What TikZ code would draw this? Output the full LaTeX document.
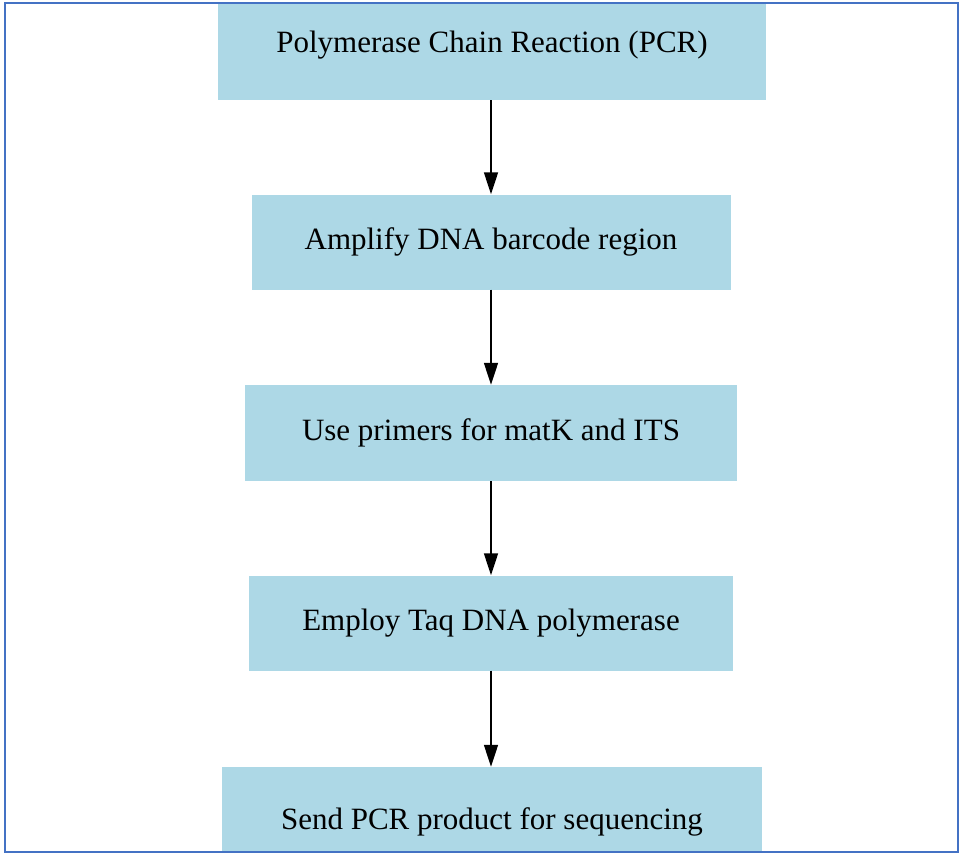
\documentclass[tikz,border=0pt]{standalone}
\usepackage{fontspec}
\setmainfont{Liberation Serif}
\usetikzlibrary{arrows.meta}
\definecolor{boxfill}{HTML}{ADD8E6}
\definecolor{frame}{HTML}{4472C4}
\begin{document}
\begin{tikzpicture}[x=1pt,y=-1pt,
  box/.style={fill=boxfill,draw=none,inner sep=0pt,font=\fontsize{31}{36}\selectfont},
  arr/.style={-{Triangle[length=22pt,width=14pt]},line width=1.5pt}]
\useasboundingbox (0,0) rectangle (964,856);
\fill[white] (0,0) rectangle (964,856);
\begin{scope}
\clip (5,3) rectangle (958,852);
\node[box,minimum width=548pt,minimum height=110pt] (n1) at (492,45) {Polymerase Chain Reaction (PCR)};
\node[box,minimum width=479pt,minimum height=95pt] (n2) at (491,242) {Amplify DNA barcode region};
\node[box,minimum width=492pt,minimum height=96pt] (n3) at (491,433) {Use primers for matK and ITS};
\node[box,minimum width=484pt,minimum height=95pt] (n4) at (491,623) {Employ Taq DNA polymerase};
\node[box,minimum width=540pt,minimum height=110pt] (n5) at (492,822) {Send PCR product for sequencing};
\coordinate (top) at (491,0);
\draw[line width=1.5pt] (top) -- (n1.north -| top);
\end{scope}
\node[font=\fontsize{31}{36}\selectfont] at (492,50) {};
\draw[arr] (n1.south -| 491,0) -- (n2.north -| 491,0);
\draw[arr] (n2) -- (n3);
\draw[arr] (n3) -- (n4);
\draw[arr] (n4.south -| 491,0) -- (n5.north -| 491,0);
\draw[frame,line width=2pt] (5,3) rectangle (958,852);
\end{tikzpicture}
\end{document}
